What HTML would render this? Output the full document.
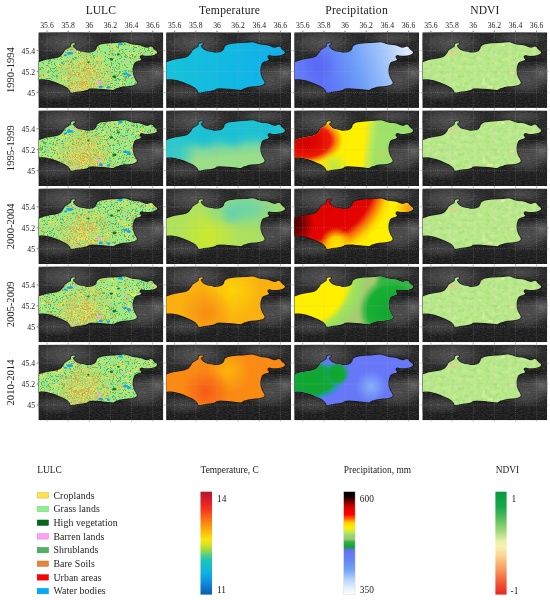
<!DOCTYPE html>
<html lang="en"><head><meta charset="utf-8"><title>LULC, Temperature, Precipitation, NDVI 1990-2014</title>
<style>html,body{margin:0;padding:0;background:#fff}svg{display:block}text{font-family:"Liberation Serif","DejaVu Serif",serif;fill:#222}</style></head><body>
<svg width="550" height="600" viewBox="0 0 550 600">
<rect width="550" height="600" fill="#fff"/>
<defs><path id="land" d="M0 29.9 L3 28.9 L6 27.9 L9 27.2 L12 26.7 L15 26.2 L18 25.7 L20.5 24.9 L22.5 23.7 L23.5 22.5 L25.2 20.5 L26 18.9 L27 17.7 L29 16.5 L31 15.2 L32.5 14.2 L32.5 12.7 L33 11.5 L34.5 10.9 L36.5 11 L37 11.7 L35.5 12.5 L34.5 13.2 L35 14.5 L36.5 16.2 L38 17.5 L40 18.5 L42.5 19.2 L45.5 19.5 L48 20.3 L52 20.2 L55 19.5 L57 18.2 L58 16.7 L58.5 14.7 L59.5 13.5 L62 12.2 L66 11.5 L71 11 L76 10.7 L81 10.4 L86 9.9 L88 10.2 L90 10.9 L93 11.9 L96 12.5 L99 12.7 L102 13.2 L104.5 14.2 L107 15.2 L109 15.5 L111 14.7 L112.5 14.2 L114 14.7 L115 16.2 L116.5 17.7 L118 18.9 L119 20.2 L118 21.5 L116 22.5 L113 23.2 L110 23.5 L107 23.5 L105 23.2 L103.5 22.7 L102 23.2 L101.2 24.5 L101.8 25.9 L103 27.2 L101.5 28.2 L99 28.9 L97 29.7 L95.8 30.9 L95.2 32.7 L94.5 35.2 L94.2 38.2 L94.5 41.2 L95.2 43.7 L96.2 46.2 L97.5 48.2 L98.5 50.2 L98 51.7 L96 52.7 L93 53.5 L89 53.9 L85 54.2 L82 54.7 L80 55.5 L78 55.9 L76.5 56.7 L75 57.7 L73 57.5 L70 57.2 L66 56.7 L62 56.4 L58 56.1 L54 55.9 L50.5 56.2 L49 57.5 L45 58.5 L42 58.9 L39 59.2 L36.5 59.7 L34.5 60.2 L32.5 60.2 L31.8 58.7 L30.8 57.2 L29 55.5 L26.5 53.9 L23.5 52.5 L20.5 51.2 L17.5 49.9 L14.5 48.9 L11.5 48 L8.5 47.4 L5.5 46.9 L2.5 46.9 L0 47.2 Z"/>
<clipPath id="lc"><use href="#land"/></clipPath>
<clipPath id="pc"><rect x="0" y="0" width="124.9" height="75.6"/></clipPath>
<radialGradient id="bgA" cx="0.5" cy="0.5" r="0.5"><stop offset="0" stop-color="#626262"/><stop offset="0.45" stop-color="#4c4c4c"/><stop offset="1" stop-color="#40404000"/></radialGradient>
<radialGradient id="bgB" cx="0.5" cy="0.5" r="0.5"><stop offset="0" stop-color="#4e4e4e"/><stop offset="0.5" stop-color="#404040e8"/><stop offset="1" stop-color="#30303000"/></radialGradient>
<radialGradient id="bgC" cx="0.5" cy="0.5" r="0.5"><stop offset="0" stop-color="#4c4c4c"/><stop offset="0.6" stop-color="#464646b8"/><stop offset="1" stop-color="#3c3c3c00"/></radialGradient>
<radialGradient id="bgD" cx="0.5" cy="0.5" r="0.5"><stop offset="0" stop-color="#121212"/><stop offset="0.6" stop-color="#141414b0"/><stop offset="1" stop-color="#16161600"/></radialGradient>
<linearGradient id="bgV" x1="0" y1="0" x2="0" y2="1"><stop offset="0" stop-color="#252525"/><stop offset="0.6" stop-color="#222222"/><stop offset="1" stop-color="#191919"/></linearGradient>
<filter id="sar" x="0" y="0" width="100%" height="100%" color-interpolation-filters="sRGB"><feTurbulence type="fractalNoise" baseFrequency="0.35 0.9" numOctaves="2" seed="11"/><feColorMatrix type="matrix" values="0 0 0 0 1  0 0 0 0 1  0 0 0 0 1  0.55 0 0 0 -0.17"/></filter>
<g id="bg" clip-path="url(#pc)"><rect width="124.9" height="75.6" fill="url(#bgV)"/><ellipse cx="28" cy="10" rx="38" ry="15" fill="url(#bgB)"/><ellipse cx="98" cy="6" rx="30" ry="8" fill="url(#bgB)" opacity="0.8"/><ellipse cx="18" cy="60" rx="28" ry="10" fill="url(#bgB)" opacity="0.7"/><ellipse cx="104" cy="47" rx="27" ry="16" fill="url(#bgC)"/><ellipse cx="119" cy="41" rx="15" ry="12" fill="url(#bgA)" opacity="0.9"/><ellipse cx="112" cy="27.5" rx="13" ry="3" fill="url(#bgD)"/><rect width="124.9" height="75.6" filter="url(#sar)" opacity="0.32"/><use href="#land" fill="none" stroke="#141414" stroke-opacity="0.6" stroke-width="1.8" stroke-linejoin="round"/></g>
<g id="grid" stroke="#b8b8b8" stroke-opacity="0.5" stroke-width="0.5" stroke-dasharray="1 1.1"><line x1="8.6" y1="0" x2="8.6" y2="75.6"/><line x1="29.75" y1="0" x2="29.75" y2="75.6"/><line x1="50.9" y1="0" x2="50.9" y2="75.6"/><line x1="72.05" y1="0" x2="72.05" y2="75.6"/><line x1="93.2" y1="0" x2="93.2" y2="75.6"/><line x1="114.35" y1="0" x2="114.35" y2="75.6"/><line x1="0" y1="18.3" x2="124.9" y2="18.3"/><line x1="0" y1="39.3" x2="124.9" y2="39.3"/><line x1="0" y1="60.3" x2="124.9" y2="60.3"/></g>
<g id="ticks" stroke="#9a9a9a" stroke-width="0.5"><line x1="8.6" y1="-1.6" x2="8.6" y2="0"/><line x1="8.6" y1="75.6" x2="8.6" y2="77.19999999999999"/><line x1="29.75" y1="-1.6" x2="29.75" y2="0"/><line x1="29.75" y1="75.6" x2="29.75" y2="77.19999999999999"/><line x1="50.9" y1="-1.6" x2="50.9" y2="0"/><line x1="50.9" y1="75.6" x2="50.9" y2="77.19999999999999"/><line x1="72.05" y1="-1.6" x2="72.05" y2="0"/><line x1="72.05" y1="75.6" x2="72.05" y2="77.19999999999999"/><line x1="93.2" y1="-1.6" x2="93.2" y2="0"/><line x1="93.2" y1="75.6" x2="93.2" y2="77.19999999999999"/><line x1="114.35" y1="-1.6" x2="114.35" y2="0"/><line x1="114.35" y1="75.6" x2="114.35" y2="77.19999999999999"/><line x1="-1.6" y1="18.3" x2="0" y2="18.3"/><line x1="124.9" y1="18.3" x2="126.5" y2="18.3"/><line x1="-1.6" y1="39.3" x2="0" y2="39.3"/><line x1="124.9" y1="39.3" x2="126.5" y2="39.3"/><line x1="-1.6" y1="60.3" x2="0" y2="60.3"/><line x1="124.9" y1="60.3" x2="126.5" y2="60.3"/></g>
<linearGradient id="t1" gradientUnits="userSpaceOnUse" x1="0" y1="0" x2="124.9" y2="0"><stop offset="0" stop-color="#16c2d8"/><stop offset="0.45" stop-color="#12bae2"/><stop offset="1" stop-color="#10aeec"/></linearGradient>
<linearGradient id="t2" gradientUnits="userSpaceOnUse" x1="0" y1="28" x2="1.5" y2="51"><stop offset="0" stop-color="#1cc2d2"/><stop offset="0.25" stop-color="#30c8c8"/><stop offset="0.6" stop-color="#78d8a0"/><stop offset="1" stop-color="#9ade8a"/></linearGradient>
<radialGradient id="t2a" gradientUnits="userSpaceOnUse" cx="39" cy="27" r="14"><stop offset="0" stop-color="#18bed6a0"/><stop offset="1" stop-color="#18bed600"/></radialGradient>
<radialGradient id="t2b" gradientUnits="userSpaceOnUse" cx="68" cy="27" r="14"><stop offset="0" stop-color="#18bed6a0"/><stop offset="1" stop-color="#18bed600"/></radialGradient>
<radialGradient id="t2c" gradientUnits="userSpaceOnUse" cx="100" cy="22" r="14"><stop offset="0" stop-color="#18bed6a0"/><stop offset="1" stop-color="#18bed600"/></radialGradient>
<radialGradient id="t2d" gradientUnits="userSpaceOnUse" cx="-2" cy="44" r="32"><stop offset="0" stop-color="#2cc8cc"/><stop offset="0.5" stop-color="#2cc8ccd0"/><stop offset="1" stop-color="#2cc8cc00"/></radialGradient>
<radialGradient id="t3a" gradientUnits="userSpaceOnUse" cx="42" cy="48" r="30"><stop offset="0" stop-color="#cdea2a"/><stop offset="1" stop-color="#cdea2a00"/></radialGradient>
<radialGradient id="t3b" gradientUnits="userSpaceOnUse" cx="78" cy="20" r="48" gradientTransform="translate(78 20) scale(1 0.5) translate(-78 -20)"><stop offset="0" stop-color="#6cd4a6"/><stop offset="0.3" stop-color="#74d6a0e8"/><stop offset="0.65" stop-color="#88da8c90"/><stop offset="1" stop-color="#a0de7000"/></radialGradient>
<radialGradient id="t3c" gradientUnits="userSpaceOnUse" cx="66" cy="25" r="12"><stop offset="0" stop-color="#64d2ac"/><stop offset="0.4" stop-color="#68d2aaa0"/><stop offset="1" stop-color="#64d2ac00"/></radialGradient>
<linearGradient id="t3" gradientUnits="userSpaceOnUse" x1="60" y1="0" x2="110" y2="0"><stop offset="0" stop-color="#b0e25c"/><stop offset="1" stop-color="#a8e064"/></linearGradient>
<radialGradient id="t4a" gradientUnits="userSpaceOnUse" cx="40" cy="46" r="26"><stop offset="0" stop-color="#f88c12"/><stop offset="1" stop-color="#f88c1200"/></radialGradient>
<radialGradient id="t4b" gradientUnits="userSpaceOnUse" cx="66" cy="24" r="30"><stop offset="0" stop-color="#fdd406"/><stop offset="1" stop-color="#fdd40600"/></radialGradient>
<radialGradient id="t5a" gradientUnits="userSpaceOnUse" cx="40" cy="47" r="24"><stop offset="0" stop-color="#f65a1a"/><stop offset="1" stop-color="#f65a1a00"/></radialGradient>
<radialGradient id="t5b" gradientUnits="userSpaceOnUse" cx="62" cy="26" r="22"><stop offset="0" stop-color="#fcb40c"/><stop offset="1" stop-color="#fcb40c00"/></radialGradient>
<linearGradient id="p1" gradientUnits="userSpaceOnUse" x1="0" y1="50" x2="120" y2="12"><stop offset="0" stop-color="#6680f8"/><stop offset="0.2" stop-color="#5c6ef6"/><stop offset="0.38" stop-color="#6488f8"/><stop offset="0.52" stop-color="#70a0f8"/><stop offset="0.66" stop-color="#90b8fa"/><stop offset="0.8" stop-color="#b4d0fc"/><stop offset="0.93" stop-color="#e0ecfe"/></linearGradient>
<radialGradient id="p1a" gradientUnits="userSpaceOnUse" cx="26" cy="33" r="16"><stop offset="0" stop-color="#5a68f6"/><stop offset="1" stop-color="#5a68f600"/></radialGradient>
<linearGradient id="p2" gradientUnits="userSpaceOnUse" x1="0" y1="0" x2="124.9" y2="14"><stop offset="0" stop-color="#ffe800"/><stop offset="0.3" stop-color="#ffe400"/><stop offset="0.42" stop-color="#fff000"/><stop offset="0.58" stop-color="#fff000"/><stop offset="0.63" stop-color="#c4ea50"/><stop offset="0.68" stop-color="#a0e268"/><stop offset="1" stop-color="#98e06c"/></linearGradient>
<radialGradient id="p2a" gradientUnits="userSpaceOnUse" cx="8" cy="30" r="42" gradientTransform="translate(8 30) scale(1 0.6) translate(-8 -30)"><stop offset="0" stop-color="#cc0000"/><stop offset="0.4" stop-color="#e00800"/><stop offset="0.68" stop-color="#ee1c08"/><stop offset="0.8" stop-color="#f88008"/><stop offset="0.92" stop-color="#ffd000"/><stop offset="1" stop-color="#ffe80000"/></radialGradient>
<radialGradient id="p2b" gradientUnits="userSpaceOnUse" cx="40" cy="56" r="15"><stop offset="0" stop-color="#bce848"/><stop offset="1" stop-color="#bce84800"/></radialGradient>
<radialGradient id="p2d" gradientUnits="userSpaceOnUse" cx="88" cy="44" r="8"><stop offset="0" stop-color="#b4d860"/><stop offset="1" stop-color="#b4d86000"/></radialGradient>
<radialGradient id="p3" gradientUnits="userSpaceOnUse" cx="20" cy="-10" r="84"><stop offset="0" stop-color="#dc0000"/><stop offset="0.72" stop-color="#e40400"/><stop offset="0.8" stop-color="#f87008"/><stop offset="0.89" stop-color="#ffd400"/><stop offset="0.96" stop-color="#fff000"/><stop offset="1" stop-color="#fff000"/></radialGradient>
<radialGradient id="p3a" gradientUnits="userSpaceOnUse" cx="-2" cy="35" r="22"><stop offset="0" stop-color="#380000"/><stop offset="0.4" stop-color="#480000d0"/><stop offset="1" stop-color="#38000000"/></radialGradient>
<radialGradient id="p3b" gradientUnits="userSpaceOnUse" cx="115" cy="20" r="14"><stop offset="0" stop-color="#f89810"/><stop offset="1" stop-color="#f8981000"/></radialGradient>
<radialGradient id="p3c" gradientUnits="userSpaceOnUse" cx="42" cy="55" r="16"><stop offset="0" stop-color="#ffe400"/><stop offset="0.45" stop-color="#ffdc00e0"/><stop offset="1" stop-color="#ffd00000"/></radialGradient>
<radialGradient id="p4" gradientUnits="userSpaceOnUse" cx="5" cy="10" r="80"><stop offset="0" stop-color="#fff000"/><stop offset="0.6" stop-color="#fff000"/><stop offset="0.68" stop-color="#a8e454"/><stop offset="0.76" stop-color="#98de64"/><stop offset="0.84" stop-color="#a6cc70"/><stop offset="1" stop-color="#a8c870"/></radialGradient>
<radialGradient id="p4g" gradientUnits="userSpaceOnUse" cx="98" cy="44" r="38.5"><stop offset="0" stop-color="#0ca42c"/><stop offset="0.64" stop-color="#18b034"/><stop offset="0.76" stop-color="#40b848c0"/><stop offset="0.9" stop-color="#80c06000"/></radialGradient>
<radialGradient id="p4h" gradientUnits="userSpaceOnUse" cx="105" cy="18" r="28.5"><stop offset="0" stop-color="#0ca42c"/><stop offset="0.64" stop-color="#18b034"/><stop offset="0.76" stop-color="#40b848c0"/><stop offset="0.9" stop-color="#80c06000"/></radialGradient>
<radialGradient id="p5a" gradientUnits="userSpaceOnUse" cx="14" cy="35" r="36" gradientTransform="translate(14 35) scale(1 0.6) translate(-14 -35)"><stop offset="0" stop-color="#0ea82c"/><stop offset="0.7" stop-color="#12a638"/><stop offset="0.85" stop-color="#1c9ca8c0"/><stop offset="1" stop-color="#2890c800"/></radialGradient>
<radialGradient id="p5c" gradientUnits="userSpaceOnUse" cx="43" cy="29" r="13"><stop offset="0" stop-color="#0ea82c"/><stop offset="0.6" stop-color="#12a638"/><stop offset="1" stop-color="#1c9cb800"/></radialGradient>
<radialGradient id="p5b" gradientUnits="userSpaceOnUse" cx="77" cy="42" r="16"><stop offset="0" stop-color="#86b0fc"/><stop offset="1" stop-color="#86b0fc00"/></radialGradient>
<filter id="nvf" x="0" y="0" width="100%" height="100%" color-interpolation-filters="sRGB"><feTurbulence type="fractalNoise" baseFrequency="0.22 0.26" numOctaves="2" seed="5"/><feColorMatrix type="matrix" values="0 0 0 0 0.55  0 0 0 0 0.83  0 0 0 0 0.36  1.1 0 0 0 -0.5"/></filter>
<filter id="nvg" x="0" y="0" width="100%" height="100%" color-interpolation-filters="sRGB"><feTurbulence type="fractalNoise" baseFrequency="0.2 0.24" numOctaves="2" seed="23"/><feColorMatrix type="matrix" values="0 0 0 0 0.86  0 0 0 0 0.95  0 0 0 0 0.62  1.5 0 0 0 -0.68"/></filter>
<g id="ndvi"><rect width="124.9" height="75.6" fill="#b8e88c"/><rect width="124.9" height="75.6" filter="url(#nvf)"/><rect width="124.9" height="75.6" filter="url(#nvg)"/><ellipse cx="31" cy="20.5" rx="4" ry="1.5" fill="#eccc8c"/><ellipse cx="80.5" cy="12.4" rx="2" ry="1.3" fill="#e4eca4"/><ellipse cx="90" cy="40.5" rx="2.6" ry="1.3" fill="#ecdc9c"/><rect x="60.4" y="46" width="1.8" height="6" fill="#dceca4"/><ellipse cx="68" cy="54.5" rx="3" ry="1" fill="#ece4a4"/></g>
<mask id="mB" maskUnits="userSpaceOnUse" x="0" y="0" width="124.9" height="75.6"><rect width="124.9" height="75.6" fill="url(#mBg)"/></mask>
<radialGradient id="mBg" gradientUnits="userSpaceOnUse" cx="46" cy="47" r="30"><stop offset="0" stop-color="#e0e0e0"/><stop offset="0.5" stop-color="#8c8c8c"/><stop offset="1" stop-color="#000000"/></radialGradient>
<filter id="fa0" x="0" y="0" width="100%" height="100%" color-interpolation-filters="sRGB"><feTurbulence type="fractalNoise" baseFrequency="0.14 0.16" numOctaves="3" seed="3"/><feColorMatrix type="matrix" values="2.2 0 0 0 -0.6000000000000001  2.2 0 0 0 -0.6000000000000001  2.2 0 0 0 -0.6000000000000001  0 0 0 0 1"/><feComponentTransfer><feFuncR type="discrete" tableValues="0.769 0.557 1.000 0.337 0.557 0.769 0.557 0.557 0.769 0.337 0.557 0.949 0.557"/><feFuncG type="discrete" tableValues="0.878 0.925 0.882 0.722 0.925 0.878 0.925 0.925 0.878 0.722 0.925 0.675 0.925"/><feFuncB type="discrete" tableValues="0.439 0.557 0.302 0.400 0.557 0.439 0.557 0.557 0.439 0.400 0.557 0.235 0.557"/></feComponentTransfer><feGaussianBlur stdDeviation="0.75"/></filter>
<filter id="fb0" x="0" y="0" width="100%" height="100%" color-interpolation-filters="sRGB"><feTurbulence type="fractalNoise" baseFrequency="0.14 0.16" numOctaves="3" seed="40"/><feColorMatrix type="matrix" values="2.2 0 0 0 -0.6000000000000001  2.2 0 0 0 -0.6000000000000001  2.2 0 0 0 -0.6000000000000001  0 0 0 0 1"/><feComponentTransfer><feFuncR type="discrete" tableValues="0.769 0.949 0.557 1.000 0.949 0.769 0.902 1.000 0.557 0.949"/><feFuncG type="discrete" tableValues="0.878 0.675 0.925 0.882 0.675 0.878 0.573 0.882 0.925 0.675"/><feFuncB type="discrete" tableValues="0.439 0.235 0.557 0.302 0.235 0.439 0.235 0.302 0.557 0.235"/></feComponentTransfer><feGaussianBlur stdDeviation="0.75"/></filter>
<filter id="fa1" x="0" y="0" width="100%" height="100%" color-interpolation-filters="sRGB"><feTurbulence type="fractalNoise" baseFrequency="0.14 0.16" numOctaves="3" seed="8"/><feColorMatrix type="matrix" values="2.2 0 0 0 -0.6000000000000001  2.2 0 0 0 -0.6000000000000001  2.2 0 0 0 -0.6000000000000001  0 0 0 0 1"/><feComponentTransfer><feFuncR type="discrete" tableValues="0.769 0.557 1.000 0.337 0.557 0.769 0.557 0.557 0.769 0.337 0.557 0.949 0.557"/><feFuncG type="discrete" tableValues="0.878 0.925 0.882 0.722 0.925 0.878 0.925 0.925 0.878 0.722 0.925 0.675 0.925"/><feFuncB type="discrete" tableValues="0.439 0.557 0.302 0.400 0.557 0.439 0.557 0.557 0.439 0.400 0.557 0.235 0.557"/></feComponentTransfer><feGaussianBlur stdDeviation="0.75"/></filter>
<filter id="fb1" x="0" y="0" width="100%" height="100%" color-interpolation-filters="sRGB"><feTurbulence type="fractalNoise" baseFrequency="0.14 0.16" numOctaves="3" seed="43"/><feColorMatrix type="matrix" values="2.2 0 0 0 -0.6000000000000001  2.2 0 0 0 -0.6000000000000001  2.2 0 0 0 -0.6000000000000001  0 0 0 0 1"/><feComponentTransfer><feFuncR type="discrete" tableValues="0.769 0.949 0.557 1.000 0.949 0.769 0.902 1.000 0.557 0.949"/><feFuncG type="discrete" tableValues="0.878 0.675 0.925 0.882 0.675 0.878 0.573 0.882 0.925 0.675"/><feFuncB type="discrete" tableValues="0.439 0.235 0.557 0.302 0.235 0.439 0.235 0.302 0.557 0.235"/></feComponentTransfer><feGaussianBlur stdDeviation="0.75"/></filter>
<filter id="fa2" x="0" y="0" width="100%" height="100%" color-interpolation-filters="sRGB"><feTurbulence type="fractalNoise" baseFrequency="0.14 0.16" numOctaves="3" seed="13"/><feColorMatrix type="matrix" values="2.2 0 0 0 -0.6000000000000001  2.2 0 0 0 -0.6000000000000001  2.2 0 0 0 -0.6000000000000001  0 0 0 0 1"/><feComponentTransfer><feFuncR type="discrete" tableValues="0.769 0.557 1.000 0.337 0.557 0.769 0.557 0.557 0.769 0.337 0.557 0.949 0.557"/><feFuncG type="discrete" tableValues="0.878 0.925 0.882 0.722 0.925 0.878 0.925 0.925 0.878 0.722 0.925 0.675 0.925"/><feFuncB type="discrete" tableValues="0.439 0.557 0.302 0.400 0.557 0.439 0.557 0.557 0.439 0.400 0.557 0.235 0.557"/></feComponentTransfer><feGaussianBlur stdDeviation="0.75"/></filter>
<filter id="fb2" x="0" y="0" width="100%" height="100%" color-interpolation-filters="sRGB"><feTurbulence type="fractalNoise" baseFrequency="0.14 0.16" numOctaves="3" seed="46"/><feColorMatrix type="matrix" values="2.2 0 0 0 -0.6000000000000001  2.2 0 0 0 -0.6000000000000001  2.2 0 0 0 -0.6000000000000001  0 0 0 0 1"/><feComponentTransfer><feFuncR type="discrete" tableValues="0.769 0.949 0.557 1.000 0.949 0.769 0.902 1.000 0.557 0.949"/><feFuncG type="discrete" tableValues="0.878 0.675 0.925 0.882 0.675 0.878 0.573 0.882 0.925 0.675"/><feFuncB type="discrete" tableValues="0.439 0.235 0.557 0.302 0.235 0.439 0.235 0.302 0.557 0.235"/></feComponentTransfer><feGaussianBlur stdDeviation="0.75"/></filter>
<filter id="fa3" x="0" y="0" width="100%" height="100%" color-interpolation-filters="sRGB"><feTurbulence type="fractalNoise" baseFrequency="0.14 0.16" numOctaves="3" seed="18"/><feColorMatrix type="matrix" values="2.2 0 0 0 -0.6000000000000001  2.2 0 0 0 -0.6000000000000001  2.2 0 0 0 -0.6000000000000001  0 0 0 0 1"/><feComponentTransfer><feFuncR type="discrete" tableValues="0.769 0.557 1.000 0.337 0.557 0.769 0.557 0.557 0.769 0.337 0.557 0.949 0.557"/><feFuncG type="discrete" tableValues="0.878 0.925 0.882 0.722 0.925 0.878 0.925 0.925 0.878 0.722 0.925 0.675 0.925"/><feFuncB type="discrete" tableValues="0.439 0.557 0.302 0.400 0.557 0.439 0.557 0.557 0.439 0.400 0.557 0.235 0.557"/></feComponentTransfer><feGaussianBlur stdDeviation="0.75"/></filter>
<filter id="fb3" x="0" y="0" width="100%" height="100%" color-interpolation-filters="sRGB"><feTurbulence type="fractalNoise" baseFrequency="0.14 0.16" numOctaves="3" seed="49"/><feColorMatrix type="matrix" values="2.2 0 0 0 -0.6000000000000001  2.2 0 0 0 -0.6000000000000001  2.2 0 0 0 -0.6000000000000001  0 0 0 0 1"/><feComponentTransfer><feFuncR type="discrete" tableValues="0.769 0.949 0.557 1.000 0.949 0.769 0.902 1.000 0.557 0.949"/><feFuncG type="discrete" tableValues="0.878 0.675 0.925 0.882 0.675 0.878 0.573 0.882 0.925 0.675"/><feFuncB type="discrete" tableValues="0.439 0.235 0.557 0.302 0.235 0.439 0.235 0.302 0.557 0.235"/></feComponentTransfer><feGaussianBlur stdDeviation="0.75"/></filter>
<filter id="fa4" x="0" y="0" width="100%" height="100%" color-interpolation-filters="sRGB"><feTurbulence type="fractalNoise" baseFrequency="0.14 0.16" numOctaves="3" seed="23"/><feColorMatrix type="matrix" values="2.2 0 0 0 -0.6000000000000001  2.2 0 0 0 -0.6000000000000001  2.2 0 0 0 -0.6000000000000001  0 0 0 0 1"/><feComponentTransfer><feFuncR type="discrete" tableValues="0.769 0.557 1.000 0.337 0.557 0.769 0.557 0.557 0.769 0.337 0.557 0.949 0.557"/><feFuncG type="discrete" tableValues="0.878 0.925 0.882 0.722 0.925 0.878 0.925 0.925 0.878 0.722 0.925 0.675 0.925"/><feFuncB type="discrete" tableValues="0.439 0.557 0.302 0.400 0.557 0.439 0.557 0.557 0.439 0.400 0.557 0.235 0.557"/></feComponentTransfer><feGaussianBlur stdDeviation="0.75"/></filter>
<filter id="fb4" x="0" y="0" width="100%" height="100%" color-interpolation-filters="sRGB"><feTurbulence type="fractalNoise" baseFrequency="0.14 0.16" numOctaves="3" seed="52"/><feColorMatrix type="matrix" values="2.2 0 0 0 -0.6000000000000001  2.2 0 0 0 -0.6000000000000001  2.2 0 0 0 -0.6000000000000001  0 0 0 0 1"/><feComponentTransfer><feFuncR type="discrete" tableValues="0.769 0.949 0.557 1.000 0.949 0.769 0.902 1.000 0.557 0.949"/><feFuncG type="discrete" tableValues="0.878 0.675 0.925 0.882 0.675 0.878 0.573 0.882 0.925 0.675"/><feFuncB type="discrete" tableValues="0.439 0.235 0.557 0.302 0.235 0.439 0.235 0.302 0.557 0.235"/></feComponentTransfer><feGaussianBlur stdDeviation="0.75"/></filter>
<g id="lfeat"><ellipse cx="31.5" cy="21" rx="3.2" ry="1.4" fill="#10a8f0"/><ellipse cx="27" cy="23" rx="1.6" ry="1" fill="#10a8f0"/><ellipse cx="82" cy="11.6" rx="2.2" ry="1.4" fill="#10a8f0"/><ellipse cx="87" cy="41.5" rx="2.4" ry="1.2" fill="#10a8f0"/><ellipse cx="90.5" cy="43" rx="2" ry="1.6" fill="#10a8f0"/><ellipse cx="62.5" cy="54.5" rx="2" ry="1.4" fill="#10a8f0"/><ellipse cx="70" cy="55" rx="1.6" ry="1.2" fill="#10a8f0"/><ellipse cx="61" cy="48.5" rx="1" ry="0.8" fill="#10a8f0"/><ellipse cx="24" cy="31" rx="1" ry="0.7" fill="#10a8f0"/><ellipse cx="60.5" cy="50" rx="1.4" ry="2" fill="#ff9ef0"/><ellipse cx="37" cy="56.8" rx="1.6" ry="0.8" fill="#ff9ef0"/><ellipse cx="86" cy="29" rx="1.4" ry="0.8" fill="#ff9ef0"/><ellipse cx="36" cy="19" rx="1.2" ry="0.8" fill="#ff9ef0"/><ellipse cx="76" cy="44.5" rx="2" ry="1.4" fill="#0a7a2a"/><ellipse cx="73" cy="27" rx="1.6" ry="1.2" fill="#0a7a2a"/><ellipse cx="50" cy="30" rx="1.2" ry="1" fill="#0a7a2a"/><ellipse cx="80" cy="22" rx="1.4" ry="1" fill="#0a7a2a"/></g></defs>
<g transform="translate(38.4 32.3)"><use href="#bg"/><g clip-path="url(#lc)"><rect width="124.9" height="75.6" filter="url(#fa0)"/><g mask="url(#mB)"><rect width="124.9" height="75.6" filter="url(#fb0)"/></g><use href="#lfeat"/></g><use href="#grid"/><use href="#ticks"/></g>
<g transform="translate(166.1 32.3)"><use href="#bg"/><g clip-path="url(#lc)"><rect width="124.9" height="75.6" fill="url(#t1)"/></g><use href="#grid"/><use href="#ticks"/></g>
<g transform="translate(294.2 32.3)"><use href="#bg"/><g clip-path="url(#lc)"><rect width="124.9" height="75.6" fill="url(#p1)"/><rect width="124.9" height="75.6" fill="url(#p1a)"/></g><use href="#grid"/><use href="#ticks"/></g>
<g transform="translate(422.3 32.3)"><use href="#bg"/><g clip-path="url(#lc)"><use href="#ndvi"/></g><use href="#grid"/><use href="#ticks"/></g>
<g transform="translate(38.4 110.4)"><use href="#bg"/><g clip-path="url(#lc)"><rect width="124.9" height="75.6" filter="url(#fa1)"/><g mask="url(#mB)"><rect width="124.9" height="75.6" filter="url(#fb1)"/></g><use href="#lfeat"/></g><use href="#grid"/><use href="#ticks"/></g>
<g transform="translate(166.1 110.4)"><use href="#bg"/><g clip-path="url(#lc)"><rect width="124.9" height="75.6" fill="url(#t2)"/><rect width="124.9" height="75.6" fill="url(#t2d)"/><rect width="124.9" height="75.6" fill="url(#t2a)"/><rect width="124.9" height="75.6" fill="url(#t2b)"/><rect width="124.9" height="75.6" fill="url(#t2c)"/></g><use href="#grid"/><use href="#ticks"/></g>
<g transform="translate(294.2 110.4)"><use href="#bg"/><g clip-path="url(#lc)"><rect width="124.9" height="75.6" fill="url(#p2)"/><rect width="124.9" height="75.6" fill="url(#p2a)"/><rect width="124.9" height="75.6" fill="url(#p2b)"/><rect width="124.9" height="75.6" fill="url(#p2d)"/></g><use href="#grid"/><use href="#ticks"/></g>
<g transform="translate(422.3 110.4)"><use href="#bg"/><g clip-path="url(#lc)"><use href="#ndvi"/></g><use href="#grid"/><use href="#ticks"/></g>
<g transform="translate(38.4 188.5)"><use href="#bg"/><g clip-path="url(#lc)"><rect width="124.9" height="75.6" filter="url(#fa2)"/><g mask="url(#mB)"><rect width="124.9" height="75.6" filter="url(#fb2)"/></g><use href="#lfeat"/></g><use href="#grid"/><use href="#ticks"/></g>
<g transform="translate(166.1 188.5)"><use href="#bg"/><g clip-path="url(#lc)"><rect width="124.9" height="75.6" fill="url(#t3)"/><rect width="124.9" height="75.6" fill="url(#t3a)"/><rect width="124.9" height="75.6" fill="url(#t3b)"/><rect width="124.9" height="75.6" fill="url(#t3c)"/></g><use href="#grid"/><use href="#ticks"/></g>
<g transform="translate(294.2 188.5)"><use href="#bg"/><g clip-path="url(#lc)"><rect width="124.9" height="75.6" fill="url(#p3)"/><rect width="124.9" height="75.6" fill="url(#p3c)"/><rect width="124.9" height="75.6" fill="url(#p3a)"/><rect width="124.9" height="75.6" fill="url(#p3b)"/></g><use href="#grid"/><use href="#ticks"/></g>
<g transform="translate(422.3 188.5)"><use href="#bg"/><g clip-path="url(#lc)"><use href="#ndvi"/></g><use href="#grid"/><use href="#ticks"/></g>
<g transform="translate(38.4 266.6)"><use href="#bg"/><g clip-path="url(#lc)"><rect width="124.9" height="75.6" filter="url(#fa3)"/><g mask="url(#mB)"><rect width="124.9" height="75.6" filter="url(#fb3)"/></g><use href="#lfeat"/></g><use href="#grid"/><use href="#ticks"/></g>
<g transform="translate(166.1 266.6)"><use href="#bg"/><g clip-path="url(#lc)"><rect width="124.9" height="75.6" fill="#fbb00e"/><rect width="124.9" height="75.6" fill="url(#t4b)"/><rect width="124.9" height="75.6" fill="url(#t4a)"/></g><use href="#grid"/><use href="#ticks"/></g>
<g transform="translate(294.2 266.6)"><use href="#bg"/><g clip-path="url(#lc)"><rect width="124.9" height="75.6" fill="url(#p4)"/><rect width="124.9" height="75.6" fill="url(#p4h)"/><rect width="124.9" height="75.6" fill="url(#p4g)"/></g><use href="#grid"/><use href="#ticks"/></g>
<g transform="translate(422.3 266.6)"><use href="#bg"/><g clip-path="url(#lc)"><use href="#ndvi"/></g><use href="#grid"/><use href="#ticks"/></g>
<g transform="translate(38.4 344.7)"><use href="#bg"/><g clip-path="url(#lc)"><rect width="124.9" height="75.6" filter="url(#fa4)"/><g mask="url(#mB)"><rect width="124.9" height="75.6" filter="url(#fb4)"/></g><use href="#lfeat"/></g><use href="#grid"/><use href="#ticks"/></g>
<g transform="translate(166.1 344.7)"><use href="#bg"/><g clip-path="url(#lc)"><rect width="124.9" height="75.6" fill="#fb8a12"/><rect width="124.9" height="75.6" fill="url(#t5b)"/><rect width="124.9" height="75.6" fill="url(#t5a)"/></g><use href="#grid"/><use href="#ticks"/></g>
<g transform="translate(294.2 344.7)"><use href="#bg"/><g clip-path="url(#lc)"><rect width="124.9" height="75.6" fill="#6678f8"/><rect width="124.9" height="75.6" fill="url(#p5b)"/><rect width="124.9" height="75.6" fill="url(#p5a)"/><rect width="124.9" height="75.6" fill="url(#p5c)"/></g><use href="#grid"/><use href="#ticks"/></g>
<g transform="translate(422.3 344.7)"><use href="#bg"/><g clip-path="url(#lc)"><use href="#ndvi"/></g><use href="#grid"/><use href="#ticks"/></g>
<text x="100.8" y="13.8" font-size="11.6" text-anchor="middle">LULC</text>
<text x="229.6" y="13.8" font-size="11.6" text-anchor="middle" letter-spacing="0.27">Temperature</text>
<text x="356.6" y="13.8" font-size="11.6" text-anchor="middle" letter-spacing="0.27">Precipitation</text>
<text x="484.8" y="13.8" font-size="11.6" text-anchor="middle">NDVI</text>
<text x="47.0" y="27.6" font-size="7.7" text-anchor="middle" fill="#333">35.6</text>
<line x1="47.0" y1="30.6" x2="47.0" y2="32.3" stroke="#444" stroke-width="0.5"/>
<text x="68.2" y="27.6" font-size="7.7" text-anchor="middle" fill="#333">35.8</text>
<line x1="68.2" y1="30.6" x2="68.2" y2="32.3" stroke="#444" stroke-width="0.5"/>
<text x="89.3" y="27.6" font-size="7.7" text-anchor="middle" fill="#333">36</text>
<line x1="89.3" y1="30.6" x2="89.3" y2="32.3" stroke="#444" stroke-width="0.5"/>
<text x="110.4" y="27.6" font-size="7.7" text-anchor="middle" fill="#333">36.2</text>
<line x1="110.4" y1="30.6" x2="110.4" y2="32.3" stroke="#444" stroke-width="0.5"/>
<text x="131.6" y="27.6" font-size="7.7" text-anchor="middle" fill="#333">36.4</text>
<line x1="131.6" y1="30.6" x2="131.6" y2="32.3" stroke="#444" stroke-width="0.5"/>
<text x="152.8" y="27.6" font-size="7.7" text-anchor="middle" fill="#333">36.6</text>
<line x1="152.8" y1="30.6" x2="152.8" y2="32.3" stroke="#444" stroke-width="0.5"/>
<text x="174.7" y="27.6" font-size="7.7" text-anchor="middle" fill="#333">35.6</text>
<line x1="174.7" y1="30.6" x2="174.7" y2="32.3" stroke="#444" stroke-width="0.5"/>
<text x="195.8" y="27.6" font-size="7.7" text-anchor="middle" fill="#333">35.8</text>
<line x1="195.8" y1="30.6" x2="195.8" y2="32.3" stroke="#444" stroke-width="0.5"/>
<text x="217.0" y="27.6" font-size="7.7" text-anchor="middle" fill="#333">36</text>
<line x1="217.0" y1="30.6" x2="217.0" y2="32.3" stroke="#444" stroke-width="0.5"/>
<text x="238.1" y="27.6" font-size="7.7" text-anchor="middle" fill="#333">36.2</text>
<line x1="238.1" y1="30.6" x2="238.1" y2="32.3" stroke="#444" stroke-width="0.5"/>
<text x="259.3" y="27.6" font-size="7.7" text-anchor="middle" fill="#333">36.4</text>
<line x1="259.3" y1="30.6" x2="259.3" y2="32.3" stroke="#444" stroke-width="0.5"/>
<text x="280.4" y="27.6" font-size="7.7" text-anchor="middle" fill="#333">36.6</text>
<line x1="280.4" y1="30.6" x2="280.4" y2="32.3" stroke="#444" stroke-width="0.5"/>
<text x="302.8" y="27.6" font-size="7.7" text-anchor="middle" fill="#333">35.6</text>
<line x1="302.8" y1="30.6" x2="302.8" y2="32.3" stroke="#444" stroke-width="0.5"/>
<text x="323.9" y="27.6" font-size="7.7" text-anchor="middle" fill="#333">35.8</text>
<line x1="323.9" y1="30.6" x2="323.9" y2="32.3" stroke="#444" stroke-width="0.5"/>
<text x="345.1" y="27.6" font-size="7.7" text-anchor="middle" fill="#333">36</text>
<line x1="345.1" y1="30.6" x2="345.1" y2="32.3" stroke="#444" stroke-width="0.5"/>
<text x="366.2" y="27.6" font-size="7.7" text-anchor="middle" fill="#333">36.2</text>
<line x1="366.2" y1="30.6" x2="366.2" y2="32.3" stroke="#444" stroke-width="0.5"/>
<text x="387.4" y="27.6" font-size="7.7" text-anchor="middle" fill="#333">36.4</text>
<line x1="387.4" y1="30.6" x2="387.4" y2="32.3" stroke="#444" stroke-width="0.5"/>
<text x="408.5" y="27.6" font-size="7.7" text-anchor="middle" fill="#333">36.6</text>
<line x1="408.5" y1="30.6" x2="408.5" y2="32.3" stroke="#444" stroke-width="0.5"/>
<text x="430.9" y="27.6" font-size="7.7" text-anchor="middle" fill="#333">35.6</text>
<line x1="430.9" y1="30.6" x2="430.9" y2="32.3" stroke="#444" stroke-width="0.5"/>
<text x="452.1" y="27.6" font-size="7.7" text-anchor="middle" fill="#333">35.8</text>
<line x1="452.1" y1="30.6" x2="452.1" y2="32.3" stroke="#444" stroke-width="0.5"/>
<text x="473.2" y="27.6" font-size="7.7" text-anchor="middle" fill="#333">36</text>
<line x1="473.2" y1="30.6" x2="473.2" y2="32.3" stroke="#444" stroke-width="0.5"/>
<text x="494.4" y="27.6" font-size="7.7" text-anchor="middle" fill="#333">36.2</text>
<line x1="494.4" y1="30.6" x2="494.4" y2="32.3" stroke="#444" stroke-width="0.5"/>
<text x="515.5" y="27.6" font-size="7.7" text-anchor="middle" fill="#333">36.4</text>
<line x1="515.5" y1="30.6" x2="515.5" y2="32.3" stroke="#444" stroke-width="0.5"/>
<text x="536.6" y="27.6" font-size="7.7" text-anchor="middle" fill="#333">36.6</text>
<line x1="536.6" y1="30.6" x2="536.6" y2="32.3" stroke="#444" stroke-width="0.5"/>
<text x="35" y="53.6" font-size="7.7" text-anchor="end" fill="#333">45.4</text>
<line x1="36.6" y1="50.6" x2="38.4" y2="50.6" stroke="#444" stroke-width="0.5"/>
<text x="35" y="74.6" font-size="7.7" text-anchor="end" fill="#333">45.2</text>
<line x1="36.6" y1="71.6" x2="38.4" y2="71.6" stroke="#444" stroke-width="0.5"/>
<text x="35" y="95.6" font-size="7.7" text-anchor="end" fill="#333">45</text>
<line x1="36.6" y1="92.6" x2="38.4" y2="92.6" stroke="#444" stroke-width="0.5"/>
<text transform="translate(13.6 70.1) rotate(-90)" font-size="10.6" text-anchor="middle">1990-1994</text>
<text x="35" y="131.7" font-size="7.7" text-anchor="end" fill="#333">45.4</text>
<line x1="36.6" y1="128.7" x2="38.4" y2="128.7" stroke="#444" stroke-width="0.5"/>
<text x="35" y="152.7" font-size="7.7" text-anchor="end" fill="#333">45.2</text>
<line x1="36.6" y1="149.7" x2="38.4" y2="149.7" stroke="#444" stroke-width="0.5"/>
<text x="35" y="173.7" font-size="7.7" text-anchor="end" fill="#333">45</text>
<line x1="36.6" y1="170.7" x2="38.4" y2="170.7" stroke="#444" stroke-width="0.5"/>
<text transform="translate(13.6 148.2) rotate(-90)" font-size="10.6" text-anchor="middle">1995-1999</text>
<text x="35" y="209.8" font-size="7.7" text-anchor="end" fill="#333">45.4</text>
<line x1="36.6" y1="206.8" x2="38.4" y2="206.8" stroke="#444" stroke-width="0.5"/>
<text x="35" y="230.8" font-size="7.7" text-anchor="end" fill="#333">45.2</text>
<line x1="36.6" y1="227.8" x2="38.4" y2="227.8" stroke="#444" stroke-width="0.5"/>
<text x="35" y="251.8" font-size="7.7" text-anchor="end" fill="#333">45</text>
<line x1="36.6" y1="248.8" x2="38.4" y2="248.8" stroke="#444" stroke-width="0.5"/>
<text transform="translate(13.6 226.3) rotate(-90)" font-size="10.6" text-anchor="middle">2000-2004</text>
<text x="35" y="287.9" font-size="7.7" text-anchor="end" fill="#333">45.4</text>
<line x1="36.6" y1="284.9" x2="38.4" y2="284.9" stroke="#444" stroke-width="0.5"/>
<text x="35" y="308.9" font-size="7.7" text-anchor="end" fill="#333">45.2</text>
<line x1="36.6" y1="305.9" x2="38.4" y2="305.9" stroke="#444" stroke-width="0.5"/>
<text x="35" y="329.9" font-size="7.7" text-anchor="end" fill="#333">45</text>
<line x1="36.6" y1="326.9" x2="38.4" y2="326.9" stroke="#444" stroke-width="0.5"/>
<text transform="translate(13.6 304.4) rotate(-90)" font-size="10.6" text-anchor="middle">2005-2009</text>
<text x="35" y="366.0" font-size="7.7" text-anchor="end" fill="#333">45.4</text>
<line x1="36.6" y1="363.0" x2="38.4" y2="363.0" stroke="#444" stroke-width="0.5"/>
<text x="35" y="387.0" font-size="7.7" text-anchor="end" fill="#333">45.2</text>
<line x1="36.6" y1="384.0" x2="38.4" y2="384.0" stroke="#444" stroke-width="0.5"/>
<text x="35" y="408.0" font-size="7.7" text-anchor="end" fill="#333">45</text>
<line x1="36.6" y1="405.0" x2="38.4" y2="405.0" stroke="#444" stroke-width="0.5"/>
<text transform="translate(13.6 382.5) rotate(-90)" font-size="10.6" text-anchor="middle">2010-2014</text>
<text x="37.3" y="473" font-size="9.4">LULC</text>
<text x="200.6" y="473" font-size="9.4">Temperature, C</text>
<text x="343.8" y="473" font-size="9.4">Precipitation, mm</text>
<text x="495.8" y="473" font-size="9.4">NDVI</text>
<rect x="37.2" y="492.7" width="11.3" height="5.4" fill="#ffe14d" stroke="#d8b830" stroke-width="0.5"/>
<text x="53.4" y="498.5" font-size="9.8" letter-spacing="0.1">Croplands</text>
<rect x="37.2" y="506.4" width="11.3" height="5.4" fill="#90ee90" stroke="#78cc78" stroke-width="0.5"/>
<text x="53.4" y="512.2" font-size="9.8" letter-spacing="0.1">Grass lands</text>
<rect x="37.2" y="520.0" width="11.3" height="5.4" fill="#006a1c" stroke="#005016" stroke-width="0.5"/>
<text x="53.4" y="525.8" font-size="9.8" letter-spacing="0.1">High vegetation</text>
<rect x="37.2" y="533.7" width="11.3" height="5.4" fill="#ff9ef5" stroke="#d884d0" stroke-width="0.5"/>
<text x="53.4" y="539.5" font-size="9.8" letter-spacing="0.1">Barren lands</text>
<rect x="37.2" y="547.4" width="11.3" height="5.4" fill="#4fb160" stroke="#3f9550" stroke-width="0.5"/>
<text x="53.4" y="553.2" font-size="9.8" letter-spacing="0.1">Shrublands</text>
<rect x="37.2" y="561.0" width="11.3" height="5.4" fill="#e0853a" stroke="#bf6e2c" stroke-width="0.5"/>
<text x="53.4" y="566.9" font-size="9.8" letter-spacing="0.1">Bare Soils</text>
<rect x="37.2" y="574.7" width="11.3" height="5.4" fill="#ff0000" stroke="#d80000" stroke-width="0.5"/>
<text x="53.4" y="580.5" font-size="9.8" letter-spacing="0.1">Urban areas</text>
<rect x="37.2" y="588.4" width="11.3" height="5.4" fill="#00aaff" stroke="#0090dc" stroke-width="0.5"/>
<text x="53.4" y="594.2" font-size="9.8" letter-spacing="0.1">Water bodies</text>
<linearGradient id="cbT" gradientUnits="userSpaceOnUse" x1="0" y1="491.7" x2="0" y2="594.6"><stop offset="0" stop-color="#b2182b"/><stop offset="0.1" stop-color="#e2202a"/><stop offset="0.18" stop-color="#f63a1e"/><stop offset="0.28" stop-color="#f87a14"/><stop offset="0.38" stop-color="#fab40c"/><stop offset="0.465" stop-color="#f8e60c"/><stop offset="0.515" stop-color="#d4e424"/><stop offset="0.56" stop-color="#a8da3c"/><stop offset="0.61" stop-color="#5cce80"/><stop offset="0.665" stop-color="#1cc6b4"/><stop offset="0.78" stop-color="#0cb4e4"/><stop offset="0.88" stop-color="#0e8ee0"/><stop offset="1" stop-color="#0c5cb0"/></linearGradient>
<linearGradient id="cbP" gradientUnits="userSpaceOnUse" x1="0" y1="491.7" x2="0" y2="594.6"><stop offset="0" stop-color="#000"/><stop offset="0.05" stop-color="#100000"/><stop offset="0.1" stop-color="#800000"/><stop offset="0.15" stop-color="#d80000"/><stop offset="0.22" stop-color="#ff0000"/><stop offset="0.26" stop-color="#ff6000"/><stop offset="0.3" stop-color="#ffd000"/><stop offset="0.35" stop-color="#fff000"/><stop offset="0.39" stop-color="#c8e850"/><stop offset="0.425" stop-color="#90dc70"/><stop offset="0.462" stop-color="#a0c470"/><stop offset="0.488" stop-color="#30b048"/><stop offset="0.548" stop-color="#10a030"/><stop offset="0.556" stop-color="#6070ec"/><stop offset="0.66" stop-color="#6684f4"/><stop offset="0.76" stop-color="#70a4f4"/><stop offset="0.85" stop-color="#b4d2fa"/><stop offset="0.93" stop-color="#e2eefe"/><stop offset="1" stop-color="#fff"/></linearGradient>
<linearGradient id="cbN" gradientUnits="userSpaceOnUse" x1="0" y1="491.7" x2="0" y2="594.6"><stop offset="0" stop-color="#0a9a3e"/><stop offset="0.15" stop-color="#18a84c"/><stop offset="0.27" stop-color="#5cc060"/><stop offset="0.38" stop-color="#a0d878"/><stop offset="0.48" stop-color="#e4f0a8"/><stop offset="0.53" stop-color="#faf0b0"/><stop offset="0.62" stop-color="#fcd494"/><stop offset="0.75" stop-color="#f89c60"/><stop offset="0.88" stop-color="#f05a38"/><stop offset="1" stop-color="#ea2424"/></linearGradient>
<rect x="200.5" y="491.7" width="11.5" height="102.9" fill="url(#cbT)"/>
<rect x="343.7" y="491.7" width="11.4" height="102.9" fill="url(#cbP)" stroke="#d0d0d0" stroke-width="0.4"/>
<rect x="495.4" y="491.7" width="11.2" height="102.9" fill="url(#cbN)"/>
<text x="217" y="502.2" font-size="9.4">14</text><text x="217" y="593" font-size="9.4">11</text>
<text x="359.8" y="502" font-size="9.4">600</text><text x="359.8" y="592.8" font-size="9.4">350</text>
<text x="511.6" y="502.4" font-size="9.4">1</text><text x="510.6" y="593.6" font-size="9.4">-1</text>
</svg></body></html>
